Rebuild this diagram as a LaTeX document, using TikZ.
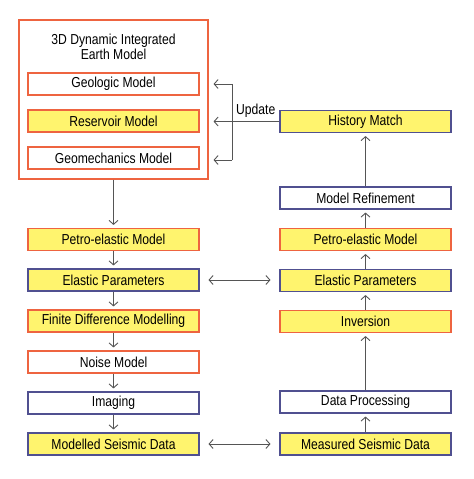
\documentclass[tikz,border=0pt]{standalone}
\usepackage{fontspec}
\setmainfont{Liberation Sans}[FakeStretch=0.84]
\usetikzlibrary{arrows.meta}
\definecolor{boxyellow}{HTML}{FFF46E}
\definecolor{boxorange}{HTML}{EE6440}
\definecolor{boxblue}{HTML}{505090}
\definecolor{linegray}{HTML}{555555}
\tikzset{
  stage/.style={draw, line width=1.1pt, minimum width=171bp, minimum height=22bp, inner sep=0pt,
    font=\fontsize{14.5}{16}\selectfont},
  orangeY/.style={stage, draw=boxorange, fill=boxyellow},
  orangeW/.style={stage, draw=boxorange, fill=white},
  blueY/.style={stage, draw=boxblue, fill=boxyellow},
  blueW/.style={stage, draw=boxblue, fill=white},
  flow/.style={draw=linegray, line width=0.9pt, -{Straight Barb[length=4pt,width=9pt]}, shorten >=3pt},
  both/.style={flow, {Straight Barb[length=4pt,width=9pt]}-{Straight Barb[length=4pt,width=9pt]}, shorten <=9pt, shorten >=9pt}
}
\begin{document}
\begin{tikzpicture}[x=1bp, y=-1bp]
  \useasboundingbox (0,0) rectangle (474,479);
  % earth model
  \node[draw=boxorange, line width=1.1pt, minimum width=189bp, minimum height=159bp] (earth) at (113.5,99.5) {};
  \node[font=\fontsize{14.5}{15.5}\selectfont, align=center] (title) at (113.5,47) {3D Dynamic Integrated\\Earth Model};
  \node[orangeW] (geo) at (113.5,84) {Geologic Model};
  \node[orangeY] (res) at (113.5,121) {Reservoir Model};
  \node[orangeW] (geomech) at (113.5,158) {Geomechanics Model};
  % forward modelling
  \node[orangeY] (peL) at (113.5,239.5) {Petro-elastic Model};
  \node[blueY] (epL) at (113.5,280) {Elastic Parameters};
  \node[orangeY] (fdm) at (113.5,321) {Finite Difference Modelling};
  \node[orangeW] (noise) at (113.5,362) {Noise Model};
  \node[blueW] (img) at (113.5,403) {Imaging};
  \node[blueY] (modelled) at (113.5,444) {Modelled Seismic Data};
  % inversion side
  \node[blueY] (hm) at (365.5,121.5) {History Match};
  \node[blueW] (refine) at (365.5,198) {Model Refinement};
  \node[orangeY] (peR) at (365.5,239.5) {Petro-elastic Model};
  \node[blueY] (epR) at (365.5,280.5) {Elastic Parameters};
  \node[orangeY] (inv) at (365.5,321.5) {Inversion};
  \node[blueW] (proc) at (365.5,402) {Data Processing};
  \node[blueY] (measured) at (365.5,444) {Measured Seismic Data};
  % update bracket
  \coordinate (top) at (232,84);
  \coordinate (bot) at (232,160);
  \draw[flow, shorten >=5pt] (hm.west) -- (earth.east |- hm.west);
  \draw[flow, shorten >=5pt] (top) -- (earth.east |- top);
  \draw[flow, shorten >=5pt] (bot) -- (earth.east |- bot);
  \draw[draw=linegray, line width=0.9pt] (top) -- (bot);
  \node[font=\fontsize{14.5}{16}\selectfont, anchor=south west, inner sep=1pt] (upd) at (235,119) {Update};
  % left column
  \draw[flow] (earth) -- (peL);
  \draw[flow] (peL) -- (epL);
  \draw[flow] (epL) -- (fdm);
  \draw[flow] (fdm) -- (noise);
  \draw[flow] (noise) -- (img);
  \draw[flow] (img) -- (modelled);
  % right column
  \draw[flow] (measured) -- (proc);
  \draw[flow] (proc) -- (inv);
  \draw[flow] (inv) -- (epR);
  \draw[flow] (epR) -- (peR);
  \draw[flow] (peR) -- (refine);
  \draw[flow] (refine) -- (hm);
  % comparisons
  \draw[both] (epL.east) -- (epR.west |- epL.east);
  \draw[both] (modelled) -- (measured);
\end{tikzpicture}
\end{document}
